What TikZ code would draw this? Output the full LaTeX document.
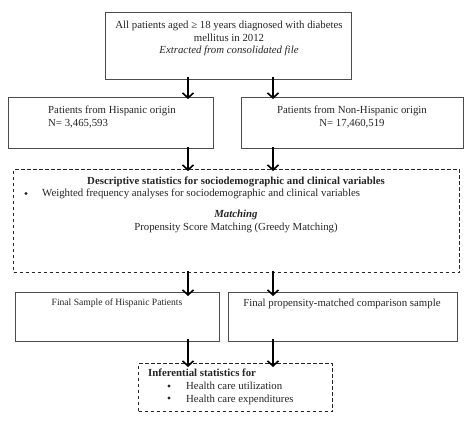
\documentclass[tikz,border=0pt]{standalone}
\usepackage{fontspec}
\setmainfont{Liberation Serif}
\usetikzlibrary{arrows.meta,calc}
\begin{document}
\begin{tikzpicture}[x=1pt,y=-1pt,
  solidbox/.style={draw=black!70, line width=0.9pt, rectangle, inner sep=0pt, anchor=north west},
  dashbox/.style={draw=black!85, line width=1.1pt, dash pattern=on 3.5pt off 2.5pt, rectangle, inner sep=0pt, anchor=north west},
  txt/.style={font=\fontsize{10.8}{12.5}\selectfont, inner sep=0pt, align=center, text=black!85},
  bul/.style={fill=black!85},
  arr/.style={line width=1.8pt, -{Straight Barb[length=5pt,width=11pt,line width=1.6pt]}}]
\useasboundingbox (0,0) rectangle (474,424);
\fill[white] (0,0) rectangle (474,424);
\coordinate (cL) at (188,0);
\coordinate (cR) at (273,0);
% top box
\node[solidbox, minimum width=246pt, minimum height=67pt] (top) at (105,12) {};
\node[txt, anchor=north] (toptxt) at (229,21) {All patients aged ≥ 18 years diagnosed with diabetes\\ mellitus in 2012\\ \textit{Extracted from consolidated file}};
% hispanic boxes
\node[solidbox, minimum width=205pt, minimum height=51pt] (his) at (8,97) {};
\node[txt, anchor=north west, align=left] (histxt) at (48,106) {Patients from Hispanic origin\\ N= 3,465,593};
\node[solidbox, minimum width=222pt, minimum height=51pt] (non) at (241,97) {};
\node[txt, anchor=north] (nontxt) at (352,106) {Patients from Non-Hispanic origin\\ N= 17,460,519};
% descriptive box
\node[dashbox, minimum width=446pt, minimum height=103pt] (desc) at (13,169) {};
\node[txt, anchor=north, font=\fontsize{10.8}{12.5}\selectfont\bfseries] (desctitle) at (236,177) {Descriptive statistics for sociodemographic and clinical variables};
\fill[bul] (26,193.5) circle (1.7pt);
\node[txt, anchor=north west] (desctxt) at (42,189) {Weighted frequency analyses for sociodemographic and clinical variables};
\node[txt, anchor=north] (match) at (236,210) {\textbf{\textit{Matching}}\\ Propensity Score Matching (Greedy Matching)};
% final boxes
\node[solidbox, minimum width=204pt, minimum height=49pt] (finL) at (15,292) {};
\node[txt, anchor=north, font=\fontsize{9.6}{11}\selectfont] (finLtxt) at (117,299) {Final Sample of Hispanic Patients};
\node[solidbox, minimum width=229pt, minimum height=49pt] (finR) at (228,292) {};
\node[txt, anchor=north] (finRtxt) at (342,299) {Final propensity-matched comparison sample};
% inferential box
\node[dashbox, minimum width=194pt, minimum height=48pt] (inf) at (138,363) {};
\node[txt, anchor=north west, font=\fontsize{10.8}{12.5}\selectfont\bfseries] (inftitle) at (148,369) {Inferential statistics for};
\fill[bul] (169,386) circle (1.7pt);
\fill[bul] (169,398) circle (1.7pt);
\node[txt, anchor=north west, align=left] (inftxt) at (186,382) {Health care utilization\\ Health care expenditures};
% arrows
\draw[arr] ([yshift=3pt]top.south -| cL) -- ([yshift=-2pt]his.north -| cL);
\draw[arr] ([yshift=3pt]top.south -| cR) -- ([yshift=-2pt]non.north -| cR);
\draw[arr] ([yshift=2pt]his.south -| cL) -- ([yshift=-2pt]desc.north -| cL);
\draw[arr] ([yshift=2pt]non.south -| cR) -- ([yshift=-2pt]desc.north -| cR);
\draw[arr] ([yshift=2pt]desc.south -| cL) -- ([yshift=-4pt]finL.north -| cL);
\draw[arr] ([yshift=2pt]desc.south -| cR) -- ([yshift=-4pt]finR.north -| cR);
\draw[arr] ([yshift=3pt]finL.south -| cL) -- ([yshift=-4pt]inf.north -| cL);
\draw[arr] ([yshift=3pt]finR.south -| cR) -- ([yshift=-4pt]inf.north -| cR);
\end{tikzpicture}
\end{document}
